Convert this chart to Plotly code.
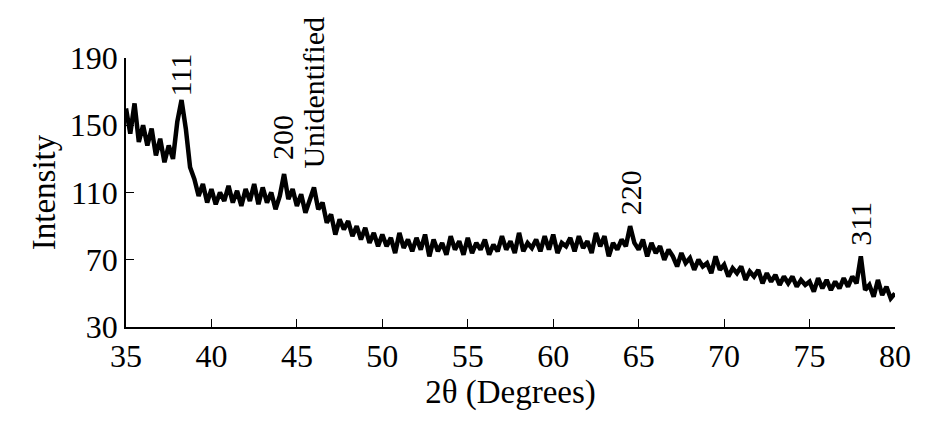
import numpy as np
import plotly.graph_objects as go

# 2theta grid: 35..80 step 0.25
two_theta = list(np.arange(35, 80.001, 0.25))
intensity = [
    160, 145, 163, 140, 150, 138, 148, 132, 142, 128, 138, 130, 152, 165, 148, 125,
    118, 108, 115, 104, 112, 103, 110, 105, 114, 104, 111, 102, 112, 105, 115, 103,
    113, 104, 110, 100, 108, 121, 106, 112, 102, 109, 98, 106, 113, 100, 104, 92,
    97, 85, 94, 88, 93, 84, 90, 82, 89, 80, 86, 78, 85, 78, 83, 74,
    86, 77, 82, 75, 83, 76, 85, 72, 82, 75, 80, 73, 84, 76, 81, 73,
    83, 74, 80, 76, 82, 73, 79, 75, 84, 76, 81, 74, 86, 75, 80, 77,
    82, 75, 84, 76, 85, 74, 80, 78, 83, 75, 84, 77, 81, 74, 86, 78,
    84, 72, 80, 76, 82, 78, 90, 80, 76, 82, 72, 80, 74, 78, 70, 76,
    72, 66, 74, 68, 71, 64, 70, 66, 68, 62, 72, 64, 67, 60, 65, 62,
    66, 58, 63, 60, 64, 56, 62, 57, 61, 55, 60, 56, 60, 54, 58, 55,
    57, 51, 59, 53, 58, 52, 57, 53, 59, 54, 60, 56, 72, 52, 55, 48,
    58, 49, 54, 47, 50,
]

peak_labels = ["111", "200", "Unidentified", "220", "311"]
peak_x = [38.2, 44.2, 46.0, 64.5, 78.0]
peak_y = [166, 128, 123, 95, 77]

font = dict(family="Liberation Serif", size=30, color="black")
tickfont = dict(family="Liberation Serif", size=32, color="black")
titlefont = dict(family="Liberation Serif", size=33, color="black")

fig = go.Figure(go.Scatter(x=two_theta, y=intensity, mode="lines",
                           line=dict(color="black", width=4.5)))

for lab, px, py in zip(peak_labels, peak_x, peak_y):
    fig.add_annotation(x=px, y=py, text=lab, textangle=-90, showarrow=False,
                       xanchor="center", yanchor="bottom", font=font)

fig.update_layout(
    width=930, height=423, plot_bgcolor="white", paper_bgcolor="white",
    margin=dict(l=118, r=43, t=50, b=104), showlegend=False, font=font,
)
fig.update_xaxes(range=[35, 80], tickvals=list(range(35, 81, 5)), ticks="inside",
                 ticklen=8, tickcolor="black", showline=True, linecolor="black",
                 linewidth=1.5, showgrid=False, zeroline=False, tickfont=tickfont,
                 title=dict(text="2θ (Degrees)", standoff=2, font=titlefont))
fig.update_yaxes(range=[30, 190], tickvals=[30, 70, 110, 150, 190], ticks="inside",
                 ticklen=8, tickcolor="black", showline=True, linecolor="black",
                 linewidth=1.5, showgrid=False, zeroline=False, tickfont=tickfont,
                 title=dict(text="Intensity", standoff=4, font=titlefont))

fig.write_html("out.html")
